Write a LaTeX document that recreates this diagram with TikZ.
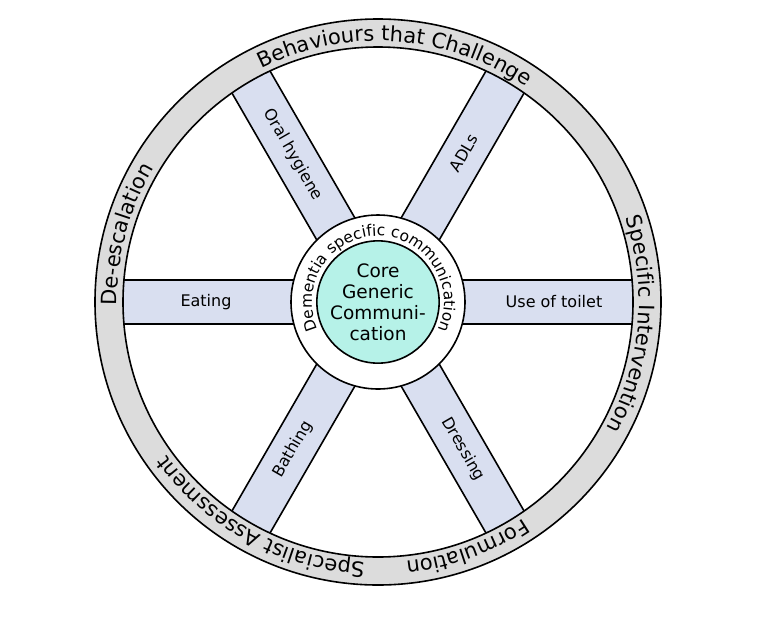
\documentclass[tikz,border=0pt]{standalone}
\usepackage{fontspec}
\setmainfont{DejaVu Sans}
\usetikzlibrary{decorations.text,calc}
\definecolor{ringc}{HTML}{DCDCDC}
\definecolor{spokec}{HTML}{D9DFF0}
\definecolor{hubc}{HTML}{B6F2E8}
\begin{document}
\begin{tikzpicture}[x=1pt,y=1pt,
  spoke/.style={fill=spokec,draw=black,line width=1.6pt},
  ringtext/.style={decorate,decoration={text along path,text align=center,
     text={|\fontsize{21}{21}\selectfont|#1}}},
  hubtext/.style={decorate,decoration={text along path,text align=center,
     text={|\fontsize{15.5}{15.5}\selectfont|#1}}},
  lab/.style={font=\fontsize{16}{17}\selectfont}]
\useasboundingbox (0,0) rectangle (768,-622);
\coordinate (c) at (378,-302);
% spokes
\foreach \a in {0,60,120,180,240,300}{
  \begin{scope}[shift={(c)},rotate=\a]
    \draw[spoke] (80,-22) rectangle (262,22);
  \end{scope}}
% ring
\fill[ringc,even odd rule] (c) circle[radius=283] (c) circle[radius=255];
\draw[line width=1.6pt] (c) circle[radius=283] (c) circle[radius=255];
% hub
\node[circle,draw,line width=1.6pt,fill=white,minimum size=174pt,inner sep=0] (hub) at (c) {};
\node[circle,draw,line width=1.6pt,fill=hubc,minimum size=120pt,inner sep=0,align=center,
  font=\fontsize{18.5}{21}\selectfont] (core) at (c) {Core\\Generic\\Communi-\\cation};
% spoke labels
\node[lab] (eat) at ($(c)+(180:172)$) {Eating};
\node[lab] (toil) at ($(c)+(0:176)$) {Use of toilet};
\node[lab,rotate=-60] (oral) at ($(c)+(120:170)$) {Oral hygiene};
\node[lab,rotate=60] (adl) at ($(c)+(60:172)$) {ADLs};
\node[lab,rotate=60] (bath) at ($(c)+(240:170)$) {Bathing};
\node[lab,rotate=-60] (dress) at ($(c)+(300:170)$) {Dressing};
% ring texts
\path[ringtext={Behaviours that Challenge}] ($(c)+(150:261)$) arc[start angle=150,end angle=22,radius=261];
\path[ringtext={Specific Intervention}] ($(c)+(40:261)$) arc[start angle=40,end angle=-50,radius=261];
\path[ringtext={Formulation}] ($(c)+(-40:261)$) arc[start angle=-40,end angle=-100,radius=261];
\path[ringtext={Specialist Assessment}] ($(c)+(-85:261)$) arc[start angle=-85,end angle=-152,radius=261];
\path[ringtext={De-escalation}] ($(c)+(205:261)$) arc[start angle=205,end angle=125,radius=261];
% hub text
\path[hubtext={Dementia specific communication}] ($(c)+(235:66)$) arc[start angle=235,end angle=-55,radius=66];
\end{tikzpicture}
\end{document}
